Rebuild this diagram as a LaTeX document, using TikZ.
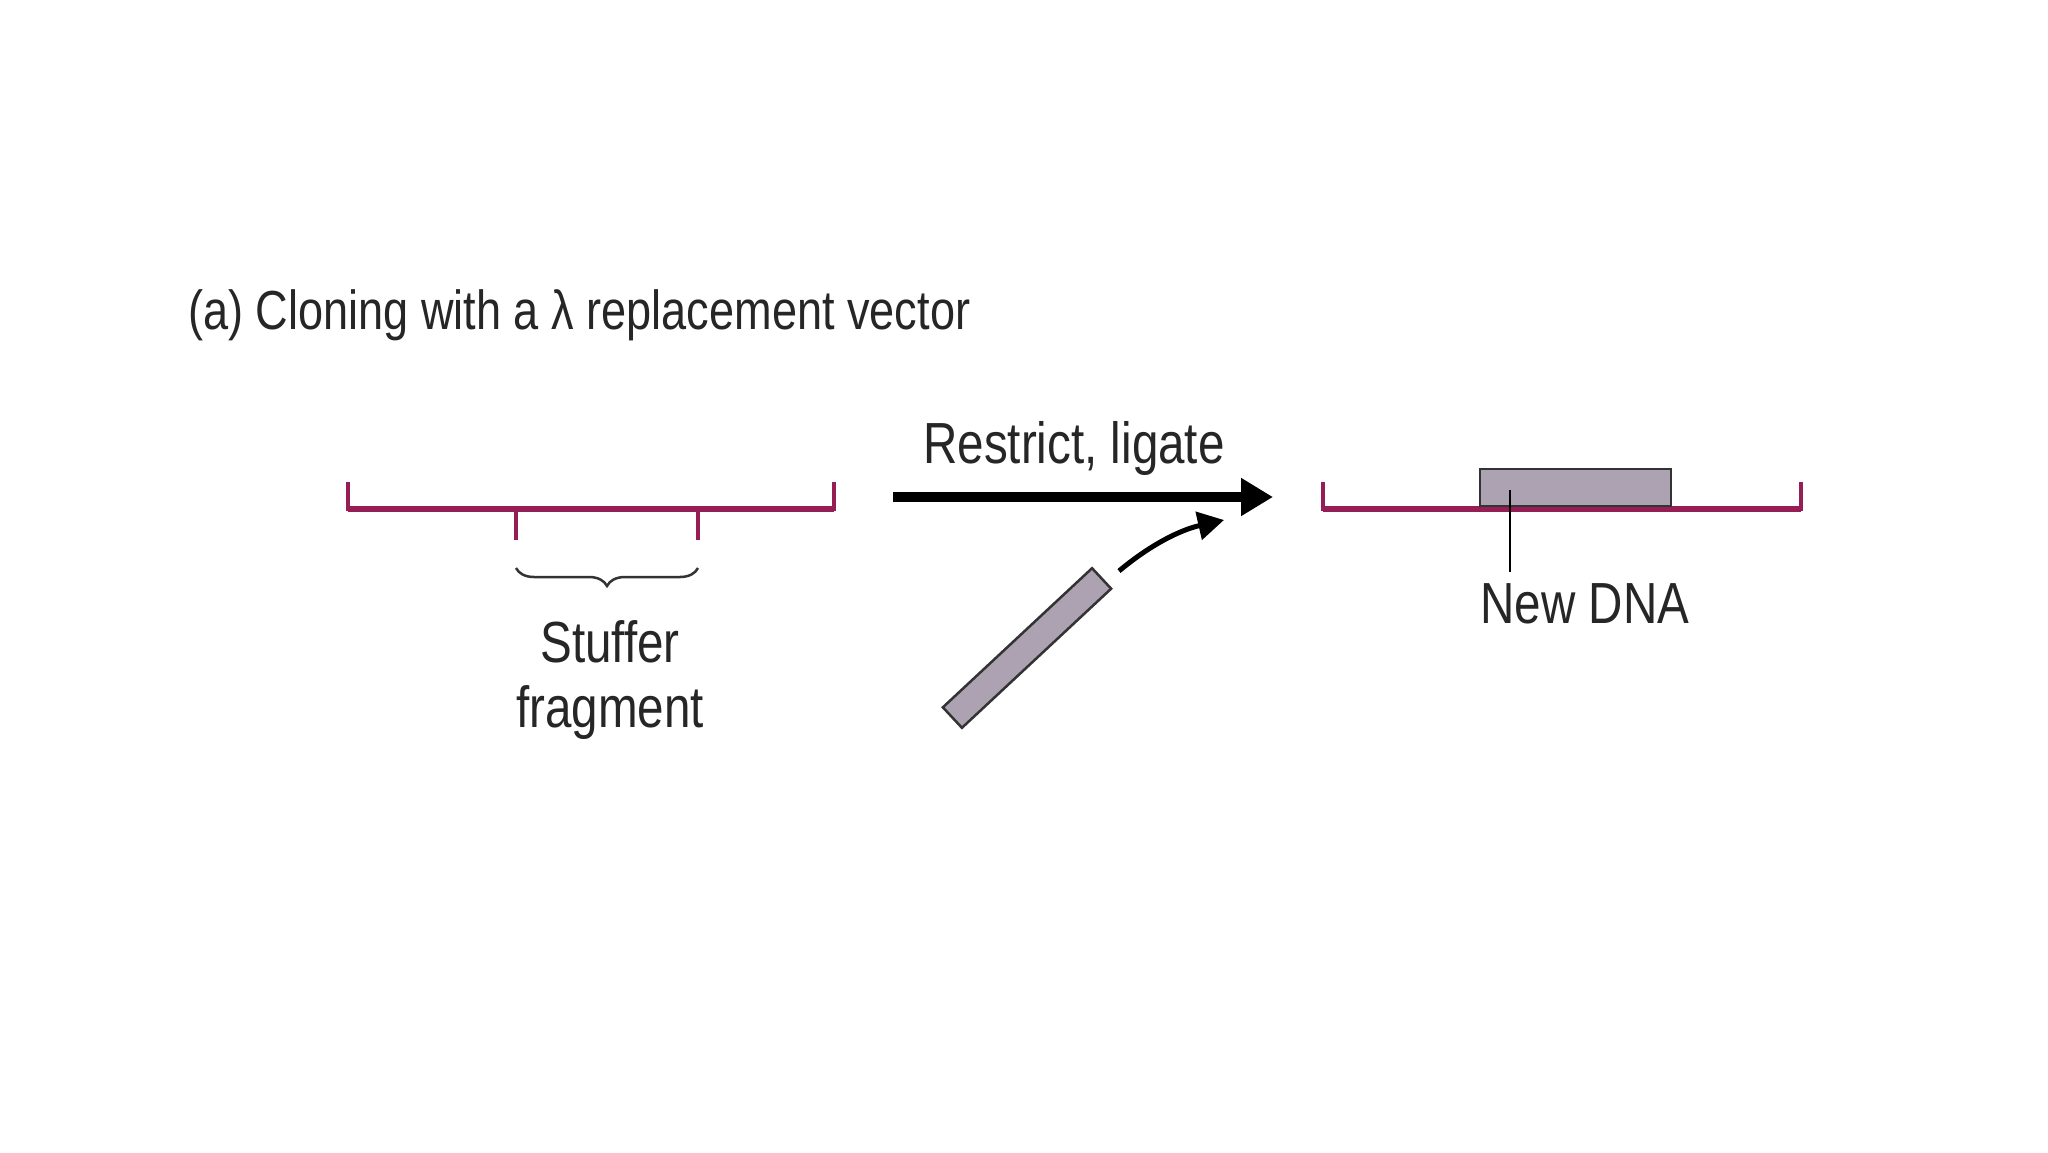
\documentclass[tikz,border=0pt]{standalone}
\usepackage{fontspec}
\setmainfont{Liberation Sans}[FakeStretch=0.82]
\usetikzlibrary{arrows.meta,decorations.pathreplacing}
\definecolor{dna}{RGB}{150,30,85}
\definecolor{insert}{RGB}{172,162,178}
\begin{document}
\begin{tikzpicture}[x=1pt,y=-1pt,
  vec/.style={draw=dna,line width=6pt},
  tick/.style={draw=dna,line width=4pt},
  lbl/.style={font=\fontsize{58}{66}\selectfont,text=black!85,inner sep=0pt},
  ins/.style={draw=black!80,fill=insert,line width=2.5pt}]
\useasboundingbox (0,0) rectangle (2048,1152);
\fill[white] (0,0) rectangle (2048,1152);
\node[lbl,anchor=west,font=\fontsize{55}{60}\selectfont] (title) at (188,315) {(a) Cloning with a λ replacement vector};
% left vector
\coordinate (l1) at (348,509); \coordinate (l2) at (834,509);
\draw[vec] (l1) -- (l2);
\draw[tick] (348,511) -- (348,482);
\draw[tick] (834,511) -- (834,482);
\draw[tick] (516,509) -- (516,540);
\draw[tick] (698,509) -- (698,540);
\draw[draw=black!80,line width=2.5pt,decorate,decoration={brace,mirror,amplitude=18pt}] (516,568) -- (698,568);
\node[lbl] (stuf) at (610,642) {Stuffer};
\node[lbl] (frag) at (610,713) {fragment};
% main arrow
\coordinate (a1) at (893,497); \coordinate (a2) at (1273,497);
\node[lbl] (rl) at (1074,448) {Restrict, ligate};
\draw[line width=10pt,-{Triangle[length=32pt,width=36pt]}] (a1) -- (a2);
% insert bar
\draw[ins,rotate around={43:(1027,648)}] (925,634) rectangle (1129,662);
\coordinate (c1) at (1119,571); \coordinate (c2) at (1224,520);
\draw[line width=5pt,-{Triangle[length=26pt,width=28pt]}] (c1) .. controls (1150,545) and (1180,530) .. (c2);
% right vector
\draw[vec] (1323,509) -- (1801,509);
\draw[tick] (1323,511) -- (1323,482);
\draw[tick] (1801,511) -- (1801,482);
\draw[ins,line width=2pt] (1480,469) rectangle (1671,506);
\node[lbl] (nd) at (1585,604) {New DNA};
\draw[black,line width=2pt] (1510,490) -- (1510,572);
\end{tikzpicture}
\end{document}
